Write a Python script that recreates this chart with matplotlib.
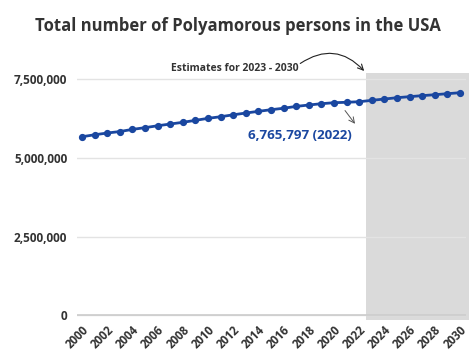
from __future__ import annotations

import matplotlib

matplotlib.use("Agg")
from matplotlib import font_manager as fm
from matplotlib import pyplot as plt
from matplotlib import transforms
from matplotlib.patches import Rectangle
from matplotlib.ticker import FuncFormatter

YEARS = list(range(2000, 2031))
PERSONS = [
    5658000, 5720000, 5775000, 5822000, 5890000, 5945000, 6005000, 6060000,
    6114000, 6177000, 6240000, 6291000, 6352000, 6408000, 6462000, 6513000,
    6560000, 6618000, 6662000, 6703000, 6735000, 6748000, 6765797, 6810000,
    6851000, 6893000, 6926000, 6958000, 6988000, 7020000, 7051000,
]
X_TICKS = list(range(2000, 2031, 2))
Y_TICKS = [0, 2500000, 5000000, 7500000]

ESTIMATE_START = 2022.55
ESTIMATE_END = 2030.72

LINE_COLOR = "#1a47a0"
TEXT_COLOR = "#333333"


def bold_font(size: float) -> fm.FontProperties:
    for f in fm.fontManager.ttflist:
        if f.fname.endswith("OpenSans-Bold.ttf"):
            return fm.FontProperties(fname=f.fname, size=size)
    return fm.FontProperties(family="DejaVu Sans", weight="bold", size=size)


def main() -> None:
    fig = plt.figure(figsize=(4.74, 3.55), dpi=100)
    ax = fig.add_axes([0.1624, 0.0997, 0.8206, 0.6969])

    ax.set_xlim(1999.6, 2030.47)
    ax.set_ylim(-130000, 7700000)

    ax.add_patch(
        Rectangle(
            (ESTIMATE_START, -130000),
            ESTIMATE_END - ESTIMATE_START,
            7660000 + 130000,
            facecolor="#dadada",
            edgecolor="none",
            zorder=0,
            clip_on=False,
        )
    )

    ax.plot(YEARS, PERSONS, color=LINE_COLOR, linewidth=2.0, marker="o", markersize=4.2, zorder=3)

    for spine in ax.spines.values():
        spine.set_visible(False)

    ax.set_yticks(Y_TICKS)
    ax.yaxis.set_major_formatter(FuncFormatter(lambda v, _: f"{int(v):,}"))
    ax.grid(axis="y", color="#e3e3e3", linewidth=1.0, zorder=1)
    ax.axhline(0, color="#cccccc", linewidth=1.2, zorder=1)
    ax.set_axisbelow(True)

    ax.set_xticks(X_TICKS)
    ax.tick_params(axis="both", length=0, labelcolor=TEXT_COLOR)
    ax.tick_params(axis="y", pad=7)
    ax.tick_params(axis="x", pad=3)
    shift = transforms.ScaledTranslation(-5 / 100, 0, fig.dpi_scale_trans)
    for label in ax.get_xticklabels():
        label.set_fontproperties(bold_font(8.3))
        label.set_rotation(45)
        label.set_ha("center")
        label.set_transform(label.get_transform() + shift)
    for label in ax.get_yticklabels():
        label.set_fontproperties(bold_font(8.5))

    fig.text(0.502, 0.928, "Total number of Polyamorous persons in the USA",
             ha="center", va="center", fontproperties=bold_font(12.0), color=TEXT_COLOR)

    ax.annotate(
        "",
        xy=(2022.54, 7674000),
        xytext=(2017.14, 7927000),
        arrowprops=dict(arrowstyle="->", color="#222222", linewidth=0.8,
                        connectionstyle="arc3,rad=-0.45"),
        annotation_clip=False,
    )
    ax.text(2012.1, 7823000, "Estimates for 2023 - 2030", ha="center", va="center",
            fontproperties=bold_font(7.5), color=TEXT_COLOR, clip_on=False)

    ax.annotate(
        "",
        xy=(2021.8, 5997000),
        xytext=(2020.74, 6557000),
        arrowprops=dict(arrowstyle="->", color="#555555", linewidth=0.7),
    )
    ax.text(2017.3, 5710000, "6,765,797 (2022)", ha="center", va="center",
            fontproperties=bold_font(9.6), color=LINE_COLOR)

    fig.savefig("out.png", dpi=100)


if __name__ == "__main__":
    main()
